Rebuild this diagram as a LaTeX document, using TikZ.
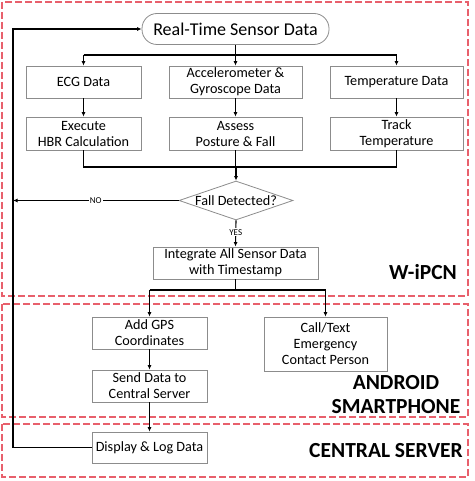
\documentclass[tikz,border=0pt]{standalone}
\usepackage{fontspec}
\setmainfont{Carlito}
\usetikzlibrary{shapes.geometric,arrows.meta}
\definecolor{zonered}{RGB}{232,96,108}
\definecolor{boxgray}{RGB}{140,140,140}
\tikzset{
  box/.style={draw=boxgray, line width=0.8pt, fill=white, align=center, inner sep=0pt, font=\fontsize{14.2}{16}\selectfont},
  conn/.style={line width=1.1pt, -{Latex[length=4.5pt,width=4pt]}},
  plain/.style={line width=1.1pt},
  zone/.style={draw=zonered, line width=1.6pt, dash pattern=on 7pt off 3pt},
  zonelabel/.style={font=\fontsize{21.5}{24}\selectfont\bfseries, align=center},
  small/.style={font=\fontsize{9}{10}\selectfont, fill=white, inner sep=1pt}
}
\begin{document}
\begin{tikzpicture}[x=1pt,y=-1pt]
\useasboundingbox (0,0) rectangle (474,481);
% zones
\draw[zone] (2,2) rectangle (468,296);
\draw[zone] (2,304) rectangle (468,417);
\draw[zone] (2,424) rectangle (468,477);
\node[zonelabel] (lw) at (423,272) {W-iPCN};
\node[zonelabel] (la) at (396,395) {ANDROID\\SMARTPHONE};
\node[zonelabel] (lc) at (386,451) {CENTRAL SERVER};
% nodes
\node[box, rounded corners=15pt, minimum width=187pt, minimum height=31pt, font=\fontsize{18}{20}\selectfont] (rt) at (235.5,29) {Real-Time Sensor Data};
\node[box, minimum width=115pt, minimum height=32pt] (ecg) at (83.5,82) {ECG Data};
\node[box, minimum width=133pt, minimum height=32pt] (acc) at (235.5,82) {Accelerometer \&\\Gyroscope Data};
\node[box, minimum width=133pt, minimum height=32pt] (tmp) at (396.5,82) {Temperature Data};
\node[box, minimum width=115pt, minimum height=33pt] (hbr) at (83.5,133.5) {Execute\\HBR Calculation};
\node[box, minimum width=133pt, minimum height=33pt] (pos) at (235.5,133.5) {Assess\\Posture \& Fall};
\node[box, minimum width=133pt, minimum height=33pt] (trk) at (396.5,133.5) {Track\\Temperature};
\node[draw=boxgray, line width=0.8pt, fill=white, diamond, minimum width=114pt, minimum height=39pt, inner sep=0pt] (dia) at (236,200.5) {};
\node[font=\fontsize{14.2}{16}\selectfont] (diat) at (dia) {Fall Detected?};
\node[box, minimum width=165pt, minimum height=32pt] (int) at (235.5,263) {Integrate All Sensor Data\\with Timestamp};
\node[box, minimum width=115pt, minimum height=32pt] (gps) at (149.5,333) {Add GPS\\Coordinates};
\node[box, minimum width=123pt, minimum height=54pt] (call) at (325.5,344) {Call/Text\\Emergency\\Contact Person};
\node[box, minimum width=115pt, minimum height=32pt] (send) at (149.5,386) {Send Data to\\Central Server};
\node[box, minimum width=115pt, minimum height=31pt] (disp) at (149.5,447.5) {Display \& Log Data};
% coordinates
\coordinate (split1) at (235.5,55);
\coordinate (merge1) at (236,167);
\coordinate (split2) at (235.5,290);
\coordinate (loopx) at (13,200.5);
\coordinate (loopb) at (13,447.5);
\coordinate (loopt) at (13,29);
% connectors
\draw[plain] (rt.south) -- (split1);
\draw[plain] (ecg.north |- split1) -- (tmp.north |- split1);
\draw[conn] (split1) -- (acc.north);
\draw[conn] (ecg.north |- split1) -- (ecg.north);
\draw[conn] (tmp.north |- split1) -- (tmp.north);
\draw[conn] (ecg) -- (hbr);
\draw[conn] (acc) -- (pos);
\draw[conn] (tmp) -- (trk);
\draw[plain] (hbr.south) -- (hbr.south |- merge1) -- (trk.south |- merge1) -- (trk.south);
\draw[plain] (pos.south) -- (pos.south |- merge1);
\draw[conn] (merge1) -- (dia.north);
\draw[conn] (dia.west) -- node[small] {NO} (loopx);
\draw[conn] (dia.south) -- node[small, pos=0.45] {YES} (int.north);
\draw[plain] (int.south) -- (split2);
\draw[plain] (gps.north |- split2) -- (call.north |- split2);
\draw[conn] (gps.north |- split2) -- (gps.north);
\draw[conn] (call.north |- split2) -- (call.north);
\draw[conn] (gps) -- (send);
\draw[conn] (send) -- (disp);
\draw[conn] (disp.west) -- (loopb) -- (loopt) -- (rt.west);
\end{tikzpicture}
\end{document}
